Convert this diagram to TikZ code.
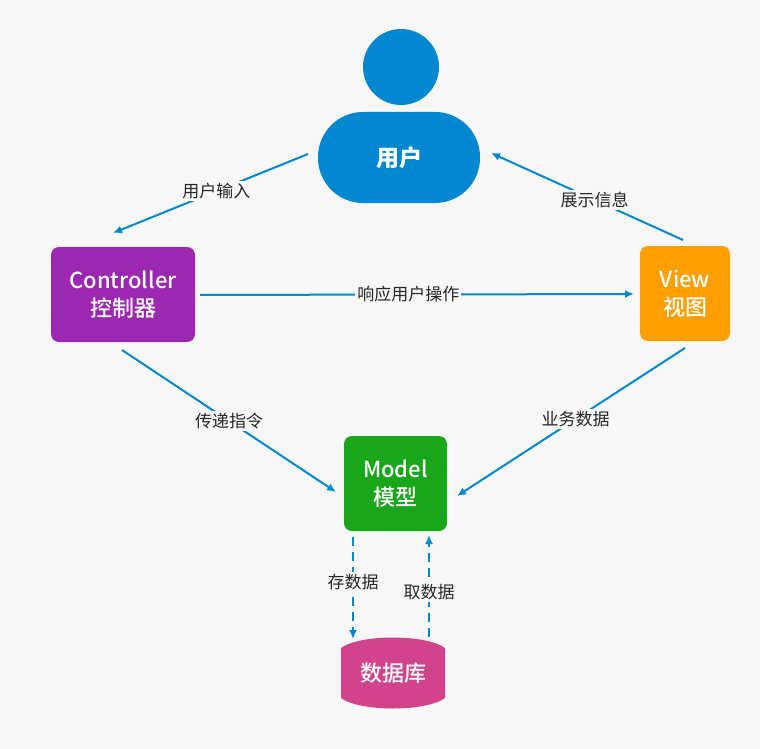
\documentclass[tikz,border=0pt]{standalone}
\usepackage{fontspec}
\setmainfont{Noto Sans CJK SC}
\newfontfamily\medf{Noto Sans CJK SC Medium}
\usetikzlibrary{arrows.meta}
\definecolor{bg}{HTML}{F7F7F7}
\definecolor{blu}{HTML}{0288D1}
\definecolor{pur}{HTML}{9C27B0}
\definecolor{org}{HTML}{FF9E00}
\definecolor{grn}{HTML}{1AA61A}
\definecolor{pnk}{HTML}{D1438B}
\begin{document}
\begin{tikzpicture}[x=1pt,y=-1pt,
 box/.style={rounded corners=8pt,text=white,align=center,font=\medf\fontsize{22}{28}\selectfont,inner sep=0pt},
 arr/.style={draw=blu,line width=2pt,-{Latex[length=9pt,width=8pt]}},
 dsh/.style={arr,dash pattern=on 9pt off 6pt},
 lab/.style={fill=bg,inner sep=2pt,font=\fontsize{17}{19}\selectfont,text=black!85}]
\fill[bg] (0,0) rectangle (760,749);
\useasboundingbox (0,0) rectangle (760,749);
\fill[blu] (401,67) circle (38);
\node[fill=blu,rounded corners=45pt,minimum width=162pt,minimum height=91pt,text=white,font=\fontsize{23}{26}\selectfont\bfseries] (user) at (399,157.5) {用户};
\node[box,fill=pur,minimum width=144pt,minimum height=95pt] (ctrl) at (123,294.5) {Controller\\控制器};
\node[box,fill=org,minimum width=90pt,minimum height=95pt] (view) at (685,293.5) {View\\视图};
\node[box,fill=grn,minimum width=103pt,minimum height=95pt] (model) at (395.5,483.5) {Model\\模型};
\fill[pnk] (341,648) .. controls (360,634) and (426,634) .. (445,648) -- (445,698) .. controls (426,712) and (360,712) .. (341,698) -- cycle;
\node[text=white,font=\medf\fontsize{22}{26}\selectfont] (db) at (393,673) {数据库};
\coordinate (a1) at (308,154); \coordinate (a2) at (113,233);
\coordinate (b1) at (200,295); \coordinate (b2) at (634,294);
\coordinate (c1) at (683,240); \coordinate (c2) at (491,153);
\coordinate (d1) at (122,350); \coordinate (d2) at (336,492);
\coordinate (e1) at (685,348); \coordinate (e2) at (457,496);
\coordinate (f1) at (353,537); \coordinate (f2) at (353,639);
\coordinate (g1) at (429,637); \coordinate (g2) at (429,535);
\draw[arr] (a1) -- (a2) node[lab,pos=0.47] {用户输入};
\draw[arr] (b1) -- (b2) node[lab,pos=0.48] {响应用户操作};
\draw[arr] (c1) -- (c2) node[lab,pos=0.46] {展示信息};
\draw[arr] (d1) -- (d2) node[lab,pos=0.5] {传递指令};
\draw[arr] (e1) -- (e2) node[lab,pos=0.48] {业务数据};
\draw[dsh] (f1) -- (f2) node[lab,pos=0.44] {存数据};
\draw[dsh] (g1) -- (g2) node[lab,pos=0.44] {取数据};
\end{tikzpicture}
\end{document}
